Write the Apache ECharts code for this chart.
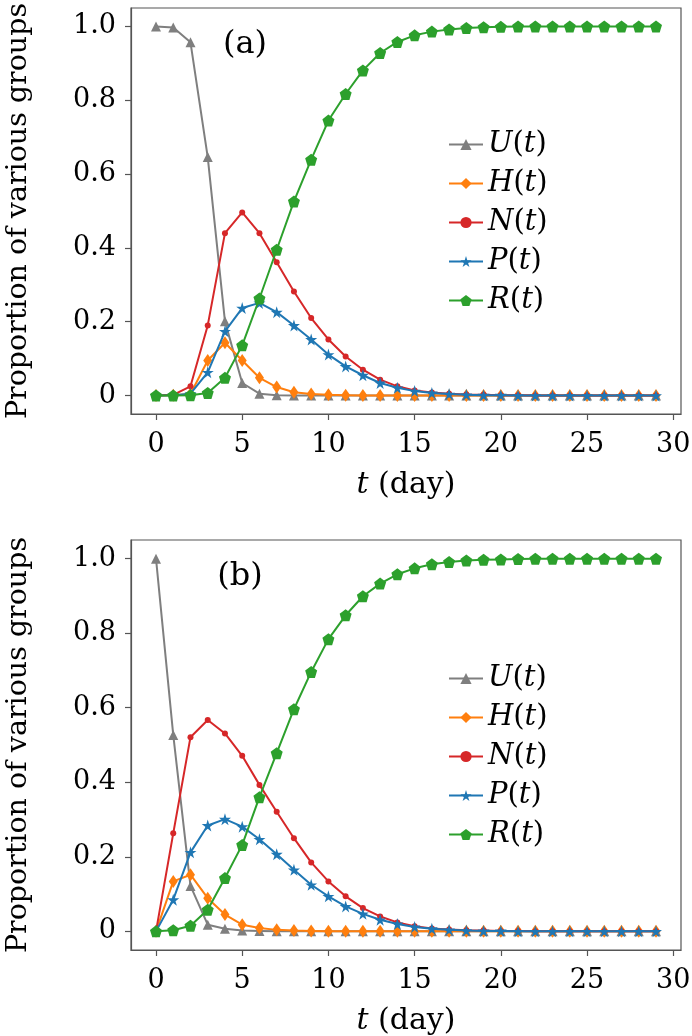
<!DOCTYPE html>
<html>
<head>
<meta charset="utf-8">
<script src="https://cdn.jsdelivr.net/npm/echarts@6/dist/echarts.min.js"></script>
<style>
  html, body { margin: 0; padding: 0; background: #fff; }
  #main { width: 692px; height: 1036px; }
</style>
</head>
<body>
<div id="main"></div>
<script>
// days 0..29
const days = [0, 1, 2, 3, 4, 5, 6, 7, 8, 9, 10, 11, 12, 13, 14, 15, 16, 17, 18, 19, 20, 21, 22, 23, 24, 25, 26, 27, 28, 29];
const xTicks = [0, 5, 10, 15, 20, 25, 30];
const yTicks = [0, 0.2, 0.4, 0.6, 0.8, 1.0];

// panel (a)
const uA = [1.0, 0.997, 0.957, 0.646, 0.201, 0.034, 0.005, 0.001, 0, 0, 0, 0, 0, 0, 0, 0, 0, 0, 0, 0, 0, 0, 0, 0, 0, 0, 0, 0, 0, 0];
const hA = [0, 0.001, 0.004, 0.095, 0.143, 0.095, 0.048, 0.023, 0.009, 0.004, 0.002, 0.001, 0, 0, 0, 0, 0, 0, 0, 0, 0, 0, 0, 0, 0, 0, 0, 0, 0, 0];
const nA = [0, 0.002, 0.025, 0.19, 0.44, 0.496, 0.44, 0.361, 0.282, 0.21, 0.152, 0.106, 0.07, 0.043, 0.025, 0.014, 0.008, 0.005, 0.003, 0.002, 0.001, 0.001, 0, 0, 0, 0, 0, 0, 0, 0];
const pA = [0, 0.001, 0.005, 0.063, 0.174, 0.237, 0.251, 0.226, 0.19, 0.152, 0.111, 0.079, 0.055, 0.034, 0.021, 0.012, 0.007, 0.004, 0.002, 0.001, 0.001, 0, 0, 0, 0, 0, 0, 0, 0, 0];
const rA = [0, 0, 0.001, 0.007, 0.048, 0.136, 0.263, 0.395, 0.526, 0.639, 0.745, 0.817, 0.881, 0.928, 0.958, 0.976, 0.986, 0.992, 0.996, 0.998, 0.999, 1.0, 1.0, 1.0, 1.0, 1.0, 1.0, 1.0, 1.0, 1.0];

// panel (b)
const uB = [1.0, 0.527, 0.122, 0.018, 0.007, 0.002, 0.001, 0, 0, 0, 0, 0, 0, 0, 0, 0, 0, 0, 0, 0, 0, 0, 0, 0, 0, 0, 0, 0, 0, 0];
const hB = [0, 0.134, 0.152, 0.089, 0.045, 0.018, 0.009, 0.004, 0.002, 0.001, 0, 0, 0, 0, 0, 0, 0, 0, 0, 0, 0, 0, 0, 0, 0, 0, 0, 0, 0, 0];
const nB = [0, 0.263, 0.521, 0.567, 0.531, 0.471, 0.393, 0.321, 0.25, 0.185, 0.134, 0.094, 0.0625, 0.04, 0.024, 0.014, 0.008, 0.005, 0.003, 0.002, 0.001, 0.001, 0, 0, 0, 0, 0, 0, 0, 0];
const pB = [0, 0.085, 0.212, 0.284, 0.301, 0.281, 0.247, 0.207, 0.165, 0.125, 0.094, 0.067, 0.047, 0.031, 0.02, 0.012, 0.007, 0.004, 0.002, 0.001, 0.001, 0, 0, 0, 0, 0, 0, 0, 0, 0];
const rB = [0, 0.003, 0.015, 0.058, 0.143, 0.232, 0.36, 0.478, 0.596, 0.696, 0.784, 0.848, 0.899, 0.933, 0.958, 0.974, 0.985, 0.991, 0.995, 0.997, 0.998, 0.999, 1.0, 1.0, 1.0, 1.0, 1.0, 1.0, 1.0, 1.0];

const names = ['U(t)', 'H(t)', 'N(t)', 'P(t)', 'R(t)'];
const colors = ['#7f7f7f', '#ff7f0e', '#d62728', '#1f77b4', '#2ca02c'];
const STAR = 'path://M50,0 L61,35 L98,35 L68,57 L79,91 L50,70 L21,91 L32,57 L2,35 L39,35 Z';
const PENTA = 'path://M50,0 L97.6,34.5 L79.4,90.5 L20.6,90.5 L2.4,34.5 Z';
const symbols = ['triangle', 'diamond', 'circle', STAR, PENTA];
const symSizes = [10, [9, 13], 6, 12, 12];

const FONT = 'DejaVu Serif';
const frame = '#555';

const chart = echarts.init(document.getElementById('main'));

function xAxis(gi) {
  return {
    type: 'value', gridIndex: gi, min: -1.45, max: 30.45,
    name: '{i|t} (day)', nameLocation: 'middle', nameGap: 56,
    nameTextStyle: { fontFamily: FONT, fontSize: 30, color: '#000',
      rich: { i: { fontFamily: FONT, fontStyle: 'italic', fontSize: 30, color: '#000' } } },
    axisLine: { show: true, onZero: false, lineStyle: { color: frame, width: 1.2 } },
    axisTick: { show: true, length: 6, customValues: xTicks, lineStyle: { color: frame, width: 1.2 } },
    axisLabel: { customValues: xTicks, margin: 17, fontFamily: FONT, fontSize: 27, color: '#000' },
    splitLine: { show: false }
  };
}
function yAxis(gi) {
  return {
    type: 'value', gridIndex: gi, min: -0.05, max: 1.05,
    name: 'Proportion of various groups', nameLocation: 'middle', nameGap: 98,
    nameTextStyle: { fontFamily: FONT, fontSize: 28.5, color: '#000' },
    axisLine: { show: true, onZero: false, lineStyle: { color: frame, width: 1.2 } },
    axisTick: { show: true, length: 6, customValues: yTicks, lineStyle: { color: frame, width: 1.2 } },
    axisLabel: { customValues: yTicks, margin: 15, fontFamily: FONT, fontSize: 27, color: '#000',
      formatter: v => v === 0 ? '0' : v.toFixed(1) },
    splitLine: { show: false }
  };
}
function legend(top) {
  return {
    orient: 'vertical', left: 443, top: top, itemWidth: 34, itemHeight: 14, itemGap: 8,
    data: names,
    formatter: n => '{i|' + n[0] + '}{n|(}{i|t}{n|)}',
    textStyle: { fontFamily: FONT, fontSize: 29, lineHeight: 31, color: '#000',
      rich: { i: { fontFamily: FONT, fontStyle: 'italic', fontSize: 29, color: '#000' },
              n: { fontFamily: FONT, fontSize: 29, color: '#000' } } }
  };
}

const dataA = [uA, hA, nA, pA, rA];
const dataB = [uB, hB, nB, pB, rB];
const series = [];
[dataA, dataB].forEach((set, gi) => {
  set.forEach((arr, k) => {
    series.push({
      name: names[k], type: 'line', xAxisIndex: gi, yAxisIndex: gi,
      data: days.map((d, i) => [d, arr[i]]),
      symbol: symbols[k], symbolSize: symSizes[k], showAllSymbol: true,
      lineStyle: { color: colors[k], width: 2 },
      itemStyle: { color: colors[k] },
      z: 2 + k
    });
  });
});

chart.setOption({
  animation: false,
  backgroundColor: '#fff',
  grid: [
    { left: 131, top: 8, width: 550, height: 406, outerBoundsMode: 'none', containLabel: false,
      show: true, borderColor: frame, borderWidth: 1.2, backgroundColor: 'transparent' },
    { left: 131, top: 540, width: 550, height: 410, outerBoundsMode: 'none', containLabel: false,
      show: true, borderColor: frame, borderWidth: 1.2, backgroundColor: 'transparent' }
  ],
  xAxis: [xAxis(0), xAxis(1)],
  yAxis: [yAxis(0), yAxis(1)],
  legend: [legend(124), legend(658)],
  graphic: [
    { type: 'text', x: 245, y: 45, style: { text: '(a)', font: '32px "DejaVu Serif"', fill: '#000', textAlign: 'center', textVerticalAlign: 'middle' } },
    { type: 'text', x: 240, y: 577, style: { text: '(b)', font: '32px "DejaVu Serif"', fill: '#000', textAlign: 'center', textVerticalAlign: 'middle' } }
  ],
  series: series
});
</script>
</body>
</html>
